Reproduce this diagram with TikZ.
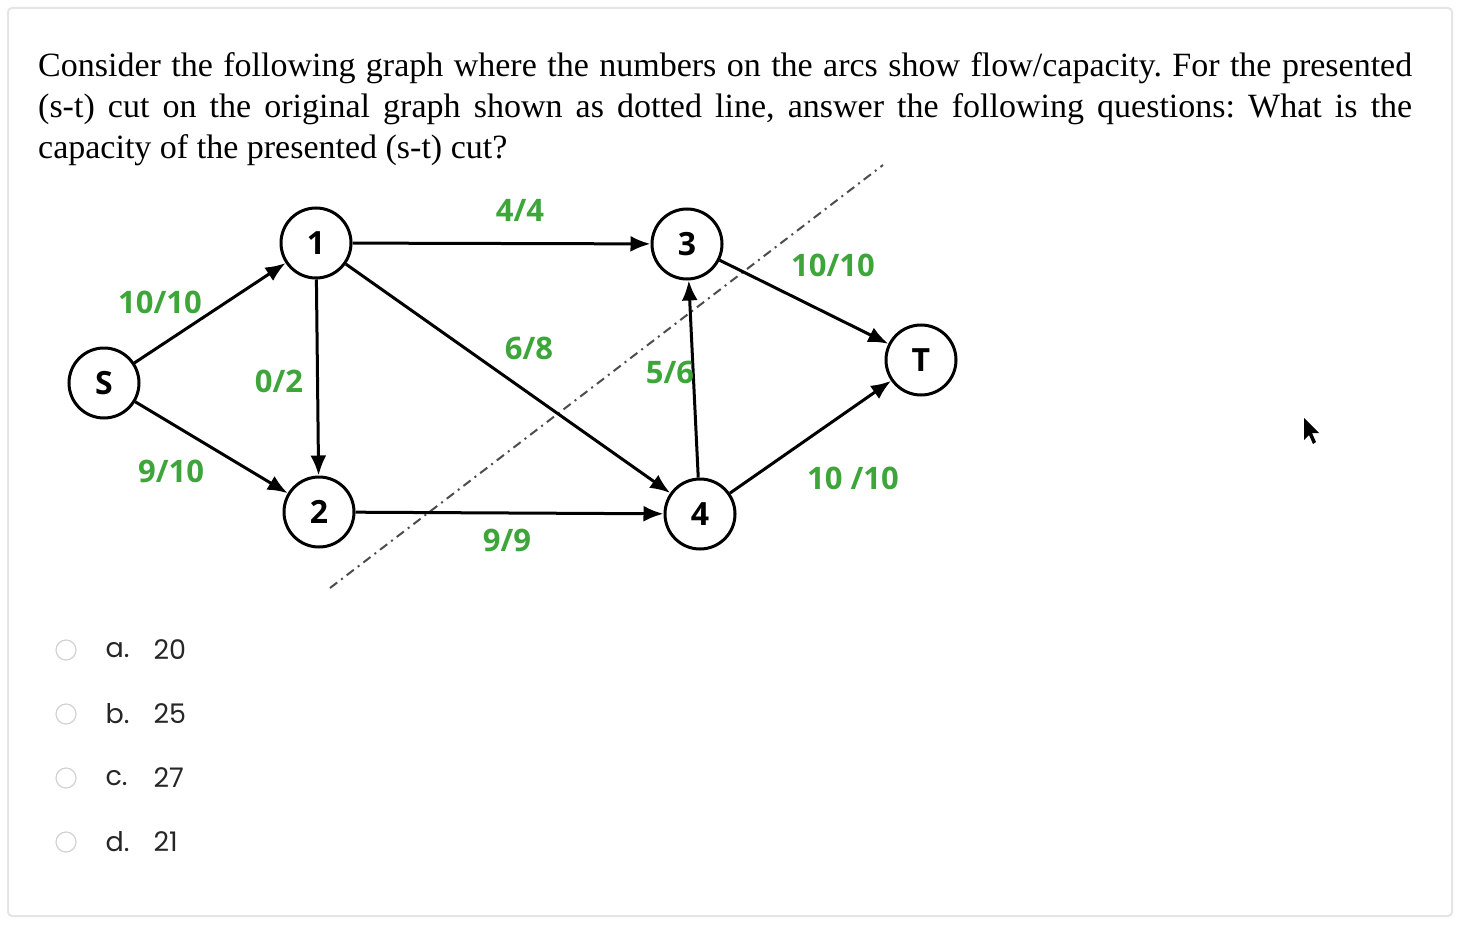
\documentclass[tikz,border=0pt]{standalone}
\usepackage{fontspec}
\setmainfont{Liberation Serif}
\newfontfamily\lab{Open Sans}
\newfontfamily\opt{Poppins}
\usepackage{ragged2e}
\usetikzlibrary{arrows.meta}
\definecolor{lg}{HTML}{3DA53A}
\begin{document}
\begin{tikzpicture}[x=1pt,y=-1pt,
  vert/.style={circle,draw,line width=3pt,minimum size=70pt,inner sep=0pt,font=\lab\bfseries\fontsize{32}{32}\selectfont},
  arc/.style={line width=3pt,-{Latex[length=20pt,width=16pt]}},
  flow/.style={text=lg,font=\lab\bfseries\fontsize{31}{32}\selectfont,inner sep=1pt},
  radio/.style={circle,draw=gray!35,line width=1.2pt,minimum size=20pt,inner sep=0pt},
  optx/.style={anchor=west,font=\opt\fontsize{27}{28}\selectfont,text=black!85}]
\useasboundingbox[fill=white] (0,0) rectangle (1458,944);
\draw[gray!20,line width=2pt,rounded corners=4pt] (8,8) rectangle (1452,916);
\node[anchor=north west,text width=1374pt,inner sep=0pt,font=\fontsize{34}{41}\selectfont,align=justify] (q) at (38,52)
 {\justifying\frenchspacing Consider the following graph where the numbers on the arcs show flow/capacity. For the presented\linebreak (s-t) cut on the original graph shown as dotted line, answer the following questions: What is the\linebreak capacity of the presented (s-t) cut?};
\coordinate (c1) at (330,588); \coordinate (c2) at (883,165);
\draw[gray!60!black,line width=2pt,dash pattern=on 9pt off 5pt on 2pt off 5pt] (c1) -- (c2);
\node[vert] (S) at (104,383) {S};
\node[vert] (n1) at (316,243) {1};
\node[vert] (n3) at (687,244) {3};
\node[vert] (T) at (921,360) {T};
\node[vert] (n2) at (319,512) {2};
\node[vert] (n4) at (700,514) {4};
\draw[arc] (S) -- (n1); \draw[arc] (S) -- (n2);
\draw[arc] (n1) -- (n3); \draw[arc] (n1) -- (n2); \draw[arc] (n1) -- (n4);
\draw[arc] (n2) -- (n4); \draw[arc] (n4) -- (n3);
\draw[arc] (n3) -- (T); \draw[arc] (n4) -- (T);
\node[flow] (l1) at (520,210) {4/4};
\node[flow] (l2) at (833,265) {10/10};
\node[flow] (l3) at (160,302) {10/10};
\node[flow] (l4) at (529,348) {6/8};
\node[flow] (l5) at (279,381) {0/2};
\node[flow] (l6) at (670,372) {5/6};
\node[flow] (l7) at (171,471) {9/10};
\node[flow] (l8) at (853,478) {10 /10};
\node[flow] (l9) at (507,540) {9/9};
\foreach \y/\l/\n [count=\i] in {650/a./20,714/b./25,778/c./27,842/d./21}{
  \node[radio] (r\i) at (66,\y) {};
  \node[optx] (o\i) at (102,\y) {\l};
  \node[optx] (p\i) at (150,\y) {\n};
}
\fill[black] (1304,418) -- (1304,440) -- (1309,435) -- (1313,444) -- (1316,442) -- (1312,433) -- (1319,433) -- cycle;
\end{tikzpicture}
\end{document}
